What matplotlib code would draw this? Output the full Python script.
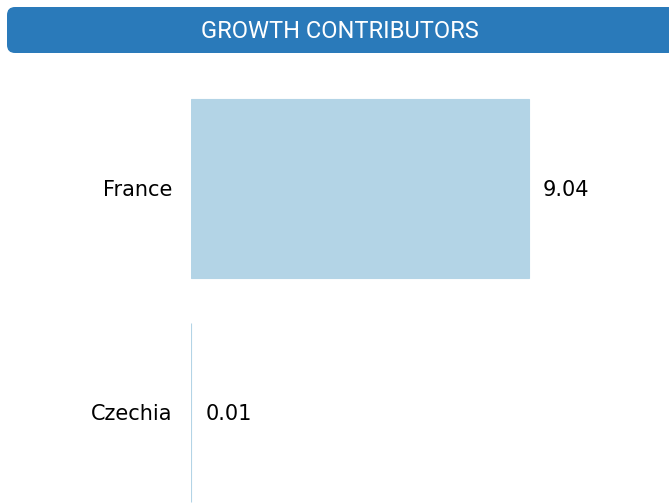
import matplotlib
matplotlib.use("Agg")
import matplotlib.pyplot as plt
from matplotlib.patches import FancyBboxPatch

plt.rcParams["font.family"] = ["DejaVu Sans"]

countries = ["France", "Czechia"]
values = [9.04, 0.01]
title = "GROWTH CONTRIBUTORS"

W, H = 669, 504
fig = plt.figure(figsize=(W / 100, H / 100), dpi=100)

# Title banner (figure pixel coordinates converted to fractions)
bx0, by0, bx1, by1 = 7, 7, 676, 53
banner = FancyBboxPatch((bx0 / W, 1 - by1 / H), (bx1 - bx0) / W, (by1 - by0) / H,
                        boxstyle="round,pad=0,rounding_size=0.012",
                        transform=fig.transFigure, facecolor="#2a7aba",
                        edgecolor="none", mutation_aspect=W / H)
fig.patches.append(banner)
fig.text(340 / W, 1 - 31 / H, title, color="white", fontsize=17,
         family="Roboto", ha="center", va="center")

# Bar axes: x=0 sits at pixel 191, 37.39 px per unit; rows 224 px apart
ax_left, ax_right = 191, 669
ax_top, ax_bottom = 54, 504
ax = fig.add_axes([ax_left / W, 1 - ax_bottom / H,
                   (ax_right - ax_left) / W, (ax_bottom - ax_top) / H])
px_per_unit = 37.39
ax.set_xlim(0, (ax_right - ax_left) / px_per_unit)
row_px = 224
y0_px = 188.5
ax.set_ylim(1 + (ax_bottom - (y0_px + row_px)) / row_px, -(y0_px - ax_top) / row_px)

ypos = list(range(len(countries)))
ax.barh(ypos, values, height=0.8, color="#b3d4e6", edgecolor="#b3d4e6", linewidth=0.8)
for y, v in zip(ypos, values):
    ax.annotate(f"{v:.2f}", (v, y), xytext=(10, 0), textcoords="offset points",
                ha="left", va="center_baseline", fontsize=15, color="black")
ax.set_yticks(ypos)
ax.set_yticklabels(countries, fontsize=15, va="center_baseline")
ax.tick_params(axis="y", length=0, pad=13.5)
ax.set_xticks([])
for s in ax.spines.values():
    s.set_visible(False)
ax.patch.set_alpha(0)

fig.savefig("out.png", dpi=100)
